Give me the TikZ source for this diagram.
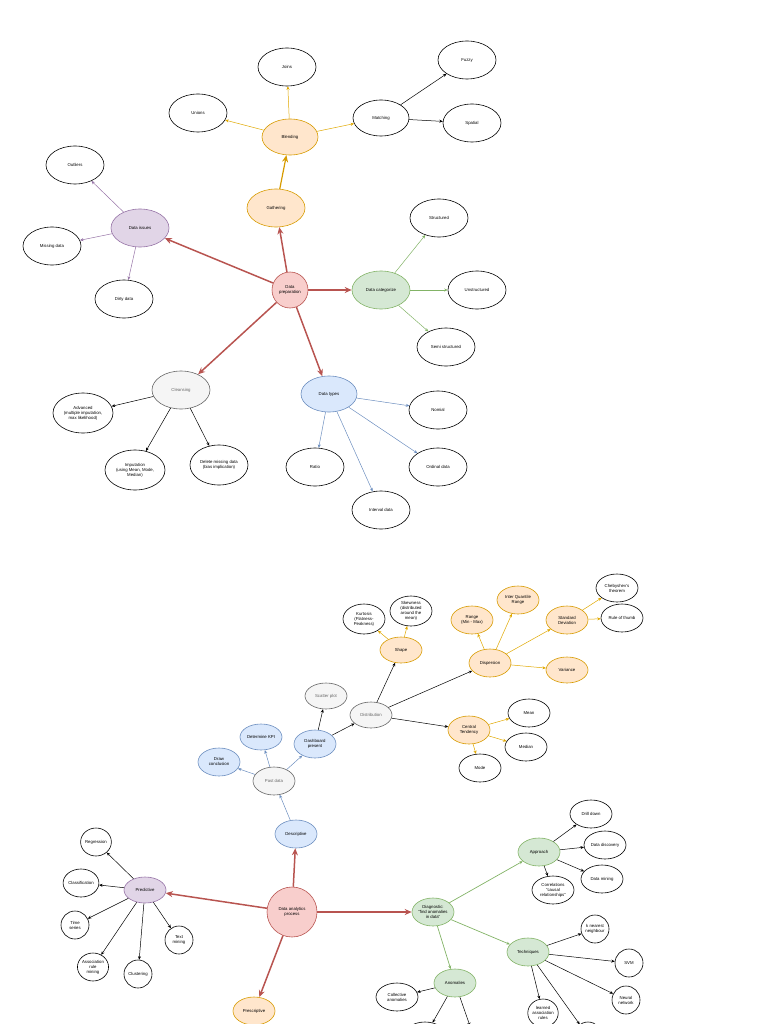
\documentclass[tikz,border=0pt]{standalone}
\usepackage{fontspec}
\setmainfont{Liberation Sans}
\usetikzlibrary{shapes.geometric,arrows.meta}
\definecolor{rf}{HTML}{F8CECC}\definecolor{rs}{HTML}{B85450}
\definecolor{of}{HTML}{FFE6CC}\definecolor{os}{HTML}{D79B00}
\definecolor{pf}{HTML}{E1D5E7}\definecolor{ps}{HTML}{9673A6}
\definecolor{gf}{HTML}{D5E8D4}\definecolor{gs}{HTML}{82B366}
\definecolor{bf}{HTML}{DAE8FC}\definecolor{bs}{HTML}{6C8EBF}
\definecolor{yf}{HTML}{F5F5F5}\definecolor{ys}{HTML}{666666}
\definecolor{oa}{HTML}{E0A800}
\tikzset{
 ell/.style args={#1/#2}{ellipse,draw,minimum width=#1pt,minimum height=#2pt,inner sep=0pt,align=center,line width=0.6pt,font=\fontsize{4.3}{5}\selectfont},
 sm/.style={font=\fontsize{3.7}{4.3}\selectfont},
 red/.style={fill=rf,draw=rs}, org/.style={fill=of,draw=os}, pur/.style={fill=pf,draw=ps},
 grn/.style={fill=gf,draw=gs}, blu/.style={fill=bf,draw=bs}, gry/.style={fill=yf,draw=ys,text=ys},
 thin/.style={line width=0.5pt,-{Stealth[length=3.5pt,width=3pt]}},
 thick/.style={line width=1.5pt,-{Stealth[length=7pt,width=6pt]}},
}
\begin{document}
\begin{tikzpicture}[x=1pt,y=-1pt]
\useasboundingbox (0,0) rectangle (768,1024);
% ---- top ----
\node[ell=36/36,red] (dp) at (290,290) {Data\\preparation};
\node[ell=58/38,org] (ga) at (276,208) {Gathering};
\node[ell=56/36,org] (bl) at (290,137) {Blending};
\node[ell=58/38] (jo) at (287,67) {Joins};
\node[ell=58/38] (un) at (198,113) {Unions};
\node[ell=56/36] (ma) at (381,118) {Matching};
\node[ell=58/38] (fu) at (467,60) {Fuzzy};
\node[ell=58/38] (sp) at (472,123) {Spatial};
\node[ell=58/38,pur] (di) at (140,228) {Data issues};
\node[ell=58/38] (ou) at (75,165) {Outliers};
\node[ell=58/38] (md) at (52,246) {Missing data};
\node[ell=58/38] (dd) at (124,299) {Dirty data};
\node[ell=58/38,grn] (dc) at (381,290) {Data categorize};
\node[ell=58/38] (st) at (439,218) {Structured};
\node[ell=58/38] (us) at (477,290) {Unstructured};
\node[ell=58/38] (ss) at (446,347) {Semi structured};
\node[ell=58/38,gry] (cl) at (181,390) {Cleansing};
\node[ell=60/40] (ad) at (83,413) {Advanced\\(multiple imputation,\\max likelihood)};
\node[ell=60/40] (im) at (135,470) {Imputation\\(using Mean, Mode,\\Median)};
\node[ell=58/40] (de) at (219,465) {Delete missing data\\(bias implication)};
\node[ell=56/36,blu] (dt) at (329,394) {Data types};
\node[ell=58/38] (no) at (438,410) {Nomial};
\node[ell=58/38] (od) at (438,467) {Ordinal data};
\node[ell=58/38] (ra) at (315,467) {Ratio};
\node[ell=58/38] (id) at (381,510) {Interval data};
\foreach \t in {di,ga,dc,cl,dt} \draw[thick,rs] (dp) -- (\t);
\draw[thick,os,line width=1.2pt] (ga) -- (bl);
\foreach \t in {jo,un,ma} \draw[thin,oa] (bl) -- (\t);
\foreach \t in {fu,sp} \draw[thin] (ma) -- (\t);
\foreach \t in {ou,md,dd} \draw[thin,ps] (di) -- (\t);
\foreach \t in {st,us,ss} \draw[thin,gs] (dc) -- (\t);
\foreach \t in {ad,im,de} \draw[thin] (cl) -- (\t);
\foreach \t in {no,od,ra,id} \draw[thin,bs] (dt) -- (\t);
% ---- bottom ----
\begin{scope}[every node/.append style={sm}]
\node[ell=50/50,red] (da) at (292,912) {Data analytics\\process};
\node[ell=42/28,blu] (ds) at (296,834) {Descriptive};
\node[ell=42/28,gry] (pd) at (274,781) {Past data};
\node[ell=42/28,blu] (dr) at (219,762) {Draw\\conclusion};
\node[ell=42/26,blu] (kp) at (261,737) {Determine KPI};
\node[ell=42/28,blu] (db) at (315,744) {Dashboard\\present};
\node[ell=42/26,gry] (sc) at (326,696) {Scatter plot};
\node[ell=42/26,gry] (dn) at (371,715) {Distribution};
\node[ell=42/26,org] (sh) at (401,650) {Shape};
\node[ell=42/30] (ku) at (364,619) {Kurtosis\\(Flatness-\\Peakness)};
\node[ell=42/30] (sk) at (411,611) {Skewness\\(distributed\\around the\\mean)};
\node[ell=42/28,org] (dsp) at (490,663) {Dispersion};
\node[ell=42/28,org] (rg) at (472,620) {Range\\(Min - Max)};
\node[ell=42/28,org] (iq) at (518,600) {Inter Quantile\\Range};
\node[ell=42/28,org] (sd) at (567,620) {Standard\\Deviation};
\node[ell=42/28] (ch) at (617,588) {Chebyshev's\\theorem};
\node[ell=42/28] (rt) at (622,618) {Rule of thumb};
\node[ell=42/26,org] (va) at (567,670) {Variance};
\node[ell=42/28,org] (ct) at (469,730) {Central\\Tendency};
\node[ell=42/28] (me) at (529,713) {Mean};
\node[ell=42/28] (mdn) at (526,747) {Median};
\node[ell=42/28] (mo) at (480,768) {Mode};
\node[ell=42/26,pur] (pr) at (145,890) {Predictive};
\node[ell=28/28] (re) at (96,842) {Regression};
\node[ell=28/28] (cf) at (81,883) {Classification};
\node[ell=28/28] (ts) at (75,925) {Time\\series};
\node[ell=28/28] (ar) at (93,967) {Association\\rule\\mining};
\node[ell=28/28] (cu) at (138,974) {Clustering};
\node[ell=28/28] (tm) at (179,940) {Text\\mining};
\node[ell=42/28,org] (ps) at (254,1011) {Prescriptive};
\node[ell=42/28,grn] (dg) at (433,912) {Diagnostic:\\"find anomalies\\in data"};
\node[ell=42/28,grn] (ap) at (539,852) {Approach};
\node[ell=42/28] (drl) at (591,814) {Drill down};
\node[ell=42/28] (ddi) at (605,845) {Data discovery};
\node[ell=42/28] (dmi) at (602,879) {Data mining};
\node[ell=42/28] (co) at (553,890) {Correlations\\"causal\\relationships"};
\node[ell=42/28,grn] (te) at (528,952) {Techniques};
\node[ell=28/28] (kn) at (595,929) {k nearest\\neighbour};
\node[ell=28/28] (sv) at (629,963) {SVM};
\node[ell=28/28] (nn) at (626,1000) {Neural\\network};
\node[ell=28/28] (la) at (543,1013) {learned\\association\\rules};
\node[ell=28/28] (tx) at (588,1036) {};
\node[ell=42/28,grn] (an) at (455,983) {Anomalies};
\node[ell=42/28] (ca) at (397,997) {Collective\\anomalies};
\node[ell=42/28] (sa) at (425,1036) {};
\coordinate (af) at (470,1026);
\end{scope}
\foreach \t in {ds,pr,dg,ps} \draw[thick,rs] (da) -- (\t);
\draw[thin,bs] (ds) -- (pd);
\foreach \t in {dr,kp,db} \draw[thin,bs] (pd) -- (\t);
\foreach \t in {sc,dn} \draw[thin] (db) -- (\t);
\foreach \t in {sh,dsp,ct} \draw[thin] (dn) -- (\t);
\foreach \t in {ku,sk} \draw[thin,oa] (sh) -- (\t);
\foreach \t in {rg,iq,sd,va} \draw[thin,oa] (dsp) -- (\t);
\foreach \t in {ch,rt} \draw[thin,oa] (sd) -- (\t);
\foreach \t in {me,mdn,mo} \draw[thin,oa] (ct) -- (\t);
\foreach \t in {re,cf,ts,ar,cu,tm} \draw[thin] (pr) -- (\t);
\foreach \t in {ap,te,an} \draw[thin,gs,line width=0.7pt] (dg) -- (\t);
\foreach \t in {drl,ddi,dmi,co} \draw[thin] (ap) -- (\t);
\foreach \t in {kn,sv,nn,la,tx} \draw[thin] (te) -- (\t);
\foreach \t in {ca,sa} \draw[thin] (an) -- (\t);
\draw[thin] (an) -- (af);
\end{tikzpicture}
\end{document}
